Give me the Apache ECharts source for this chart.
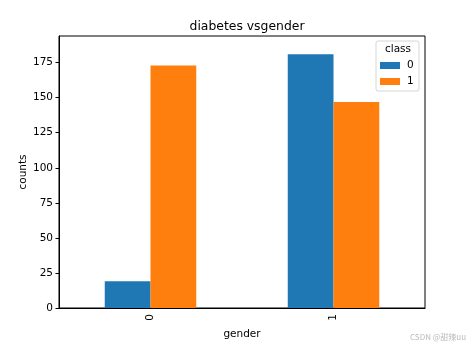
<!DOCTYPE html>
<html><head><meta charset="utf-8">
<script src="https://cdn.jsdelivr.net/npm/echarts@6/dist/echarts.min.js"></script>
<style>html,body{margin:0;padding:0;background:#fff}#c{width:474px;height:345px}</style>
</head><body><div id="c"></div>
<script>
const categories = ['0', '1'];
const class0 = [19, 181];
const class1 = [173, 147];
const yTicks = [0, 25, 50, 75, 100, 125, 150, 175];
const seriesNames = ['0', '1'];

const F = 'DejaVu Sans';
const chart = echarts.init(document.getElementById('c'));
chart.setOption({
  animation: false,
  backgroundColor: '#fff',
  textStyle: {fontFamily: F, color: '#000'},
  title: {text: 'diabetes vsgender', left: 242, textAlign: 'center', top: 16,
    textStyle: {fontFamily: F, fontSize: 12.4, fontWeight: 'normal', color: '#000'}},
  grid: {left: 59, right: 49, top: 36, bottom: 37, show: true, borderColor: '#000', borderWidth: 1, containLabel: false},
  legend: {orient: 'vertical', left: 380, top: 60, itemWidth: 20, itemHeight: 7, itemGap: 5,
    icon: 'rect', data: seriesNames, padding: 0,
    textStyle: {fontFamily: F, fontSize: 10.5, color: '#000', padding: [0,0,0,2]}},
  graphic: [
    {type: 'rect', shape: {x: 376, y: 41, width: 43, height: 50, r: 2}, style: {fill: 'rgba(255,255,255,0.8)', stroke: '#d6d6d6', lineWidth: 1}, z: 0},
    {type: 'text', left: 385, top: 44, style: {text: 'class', fontFamily: F, fontSize: 10.5, fill: '#000'}, z: 10},
    {type: 'text', right: 8, bottom: 4, style: {text: 'CSDN @甜辣uu', fontFamily: 'Noto Sans CJK SC', fontSize: 8, fill: '#bbb'}}
  ],
  xAxis: {type: 'category', data: categories, name: 'gender', nameLocation: 'middle', nameGap: 21, nameMoveOverlap: false,
    nameTextStyle: {fontFamily: F, fontSize: 10.5, color: '#000'},
    axisLine: {lineStyle: {color: '#000'}},
    axisTick: {alignWithLabel: true, length: 3.5, lineStyle: {color: '#000'}},
    axisLabel: {rotate: 90, fontFamily: F, fontSize: 10.5, color: '#000', margin: 6},
    splitLine: {show: false}},
  yAxis: {type: 'value', min: 0, max: 194, interval: 25, name: 'counts', nameLocation: 'middle', nameGap: 30, nameMoveOverlap: false,
    nameTextStyle: {fontFamily: F, fontSize: 10.5, color: '#000'},
    axisLine: {show: true, lineStyle: {color: '#000'}},
    axisTick: {show: true, length: 3.5, lineStyle: {color: '#000'}, customValues: yTicks},
    axisLabel: {fontFamily: F, fontSize: 10.5, color: '#000', margin: 6, customValues: yTicks},
    splitLine: {show: false}},
  series: [
    {name: seriesNames[0], type: 'bar', data: class0, itemStyle: {color: '#1f77b4'}, barGap: '0%', barCategoryGap: '50%'},
    {name: seriesNames[1], type: 'bar', data: class1, itemStyle: {color: '#ff7f0e'}, barGap: '0%', barCategoryGap: '50%'}
  ]
});
</script></body></html>
